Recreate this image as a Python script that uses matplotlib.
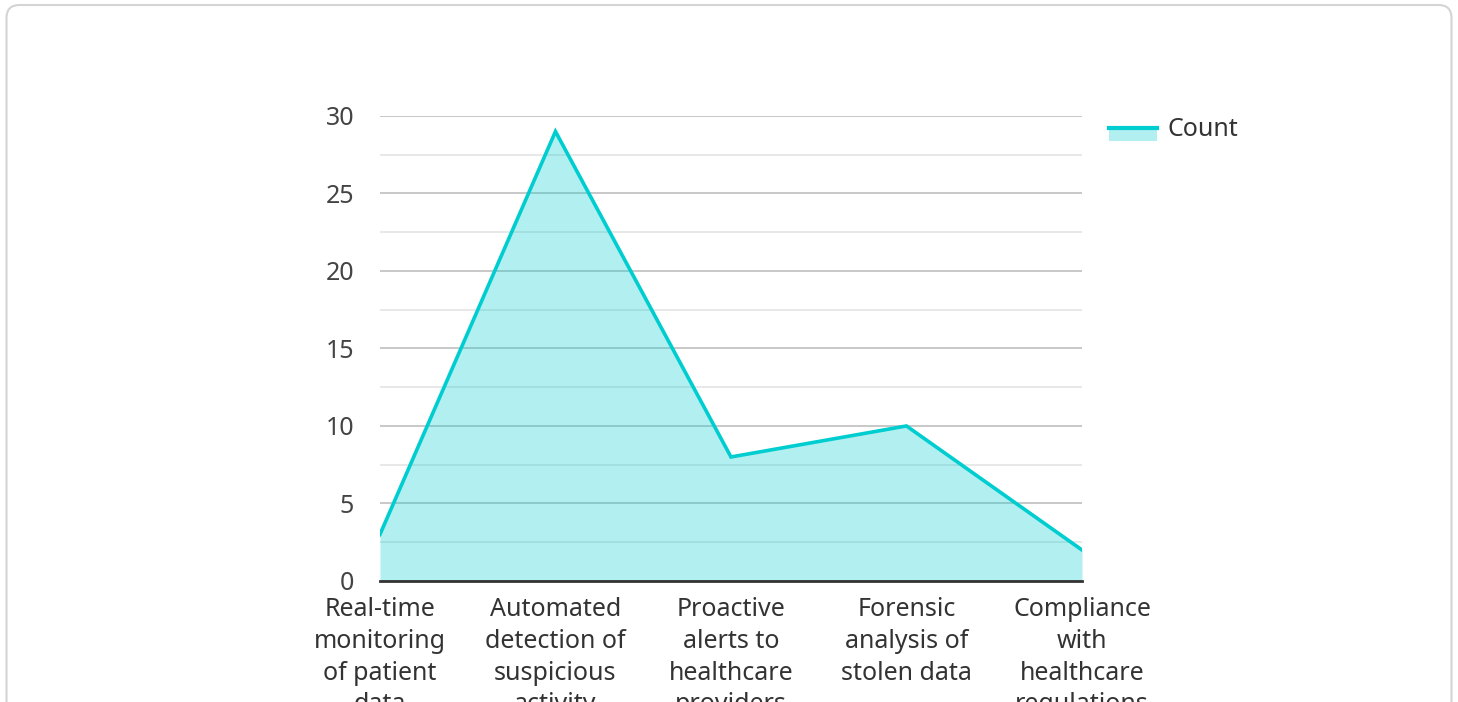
import matplotlib.pyplot as plt
from matplotlib.patches import FancyBboxPatch, Rectangle
from matplotlib.lines import Line2D
from matplotlib.legend_handler import HandlerBase

plt.rcParams["font.family"] = ["Noto Sans", "DejaVu Sans"]

categories = [
    "Real-time\nmonitoring\nof patient\ndata",
    "Automated\ndetection of\nsuspicious\nactivity",
    "Proactive\nalerts to\nhealthcare\nproviders",
    "Forensic\nanalysis of\nstolen data",
    "Compliance\nwith\nhealthcare\nregulations",
]
counts = [3, 29, 8, 10, 2]
series_name = "Count"

LINE = "#00cdd0"
TEXT = "#333333"
FS = 18


class AreaHandler(HandlerBase):
    # filled box hanging below the text middle, stroke on its top edge
    def create_artists(self, legend, orig, xd, yd, width, height, fontsize, trans):
        mid = yd + height / 2
        rect = Rectangle((xd, mid - 8.5), width, 9.5, facecolor=LINE,
                         alpha=0.3, edgecolor="none", transform=trans)
        line = Line2D([xd, xd + width], [mid + 1] * 2, color=LINE,
                      linewidth=3, transform=trans)
        return [rect, line]


fig = plt.figure(figsize=(14.58, 7.02), dpi=100)
card = FancyBboxPatch((0.065, -0.3), 14.45, 7.27,
                      boxstyle="round,pad=0,rounding_size=0.13",
                      transform=fig.dpi_scale_trans, facecolor="none",
                      edgecolor="#d4d4d4", linewidth=1.5, zorder=-1)
fig.patches.append(card)

ax = fig.add_axes([0.2606, 0.1724, 0.4815, 0.6624])
ax.set_facecolor("none")
x = list(range(len(categories)))
ax.fill_between(x, counts, 0, color=LINE, alpha=0.3, linewidth=0, zorder=2)
ax.plot(x, counts, color=LINE, linewidth=2.6, zorder=3, solid_joinstyle="miter")

ax.set_xlim(0, len(categories) - 1)
ax.set_ylim(0, 30)
ax.set_yticks(range(0, 31, 5))
ax.set_yticks([i + 2.5 for i in range(0, 30, 5)], minor=True)
ax.set_xticks(x)
ax.set_xticklabels(categories, fontsize=FS, color=TEXT, linespacing=1.36)
ax.tick_params(axis="y", labelsize=FS, labelcolor="#444444", length=0, pad=18.5)
ax.tick_params(axis="y", which="minor", length=0)
ax.tick_params(axis="x", length=0, pad=11.5)

ax.grid(axis="y", which="major", color="#c4c4c4", linewidth=1.3, zorder=1)
ax.grid(axis="y", which="minor", color="#e6e6e6", linewidth=1.3, zorder=1)
for side in ["left", "right", "top"]:
    ax.spines[side].set_visible(False)
ax.spines["bottom"].set_color("#333333")
ax.spines["bottom"].set_linewidth(2)
ax.spines["bottom"].set_zorder(4)

handles = [Rectangle((0, 0), 1, 1)]
leg = fig.legend(handles, [series_name], handler_map={Rectangle: AreaHandler()},
                 loc="upper left", bbox_to_anchor=(1096 / 1458, 1 - 104 / 702),
                 frameon=False, fontsize=FS, handlelength=1.95, handleheight=0.55,
                 handletextpad=0.4, borderpad=0, labelcolor=TEXT)

fig.savefig("out.png", dpi=100)
